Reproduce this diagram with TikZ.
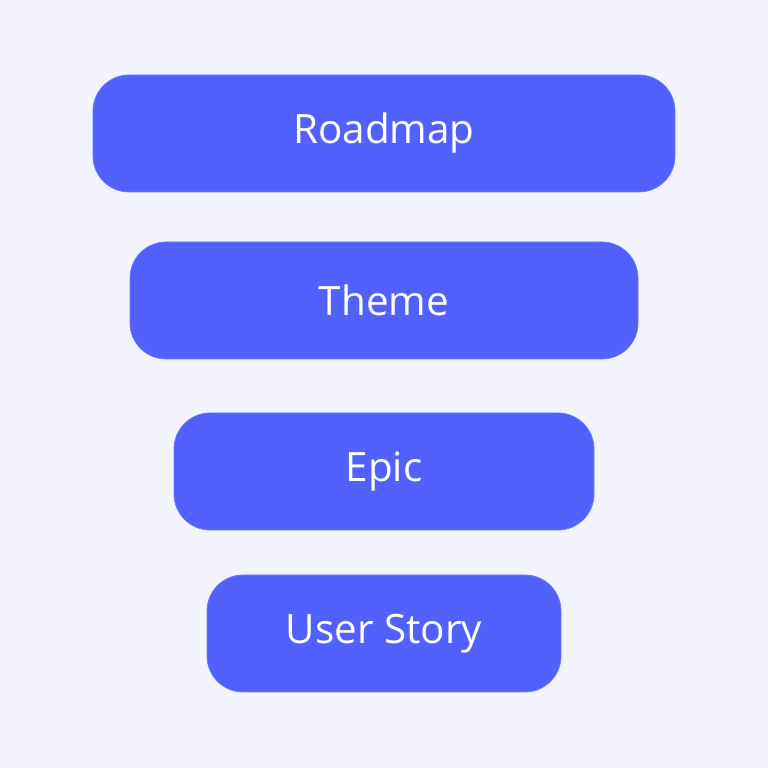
\documentclass[tikz,border=0pt]{standalone}
\usepackage{fontspec}
\setmainfont{Open Sans}
\definecolor{bgcol}{HTML}{F3F4FE}
\definecolor{boxcol}{HTML}{5260FE}
\tikzstyle{cbox}=[rectangle, fill=boxcol, draw=boxcol!85!white, thin, rounded corners=0.72cm, minimum height=2.34cm, text=white, font=\fontsize{23}{27}\selectfont]

\begin{document}
\begin{tikzpicture}[auto, thick, scale=1]

\fill[bgcol] (0,0) rectangle (15.36,15.36);
\useasboundingbox (0,0) rectangle (15.36,15.36);

\node[cbox, minimum width=11.64cm] (n1) at (7.68,12.69) {Roadmap};
\node[cbox, minimum width=10.16cm] (n2) at (7.68,9.35) {Theme};
\node[cbox, minimum width=8.40cm] (n3) at (7.68,5.93) {Epic};
\node[cbox, minimum width=7.08cm] (n4) at (7.68,2.69) {User Story};

\end{tikzpicture}
\end{document}
